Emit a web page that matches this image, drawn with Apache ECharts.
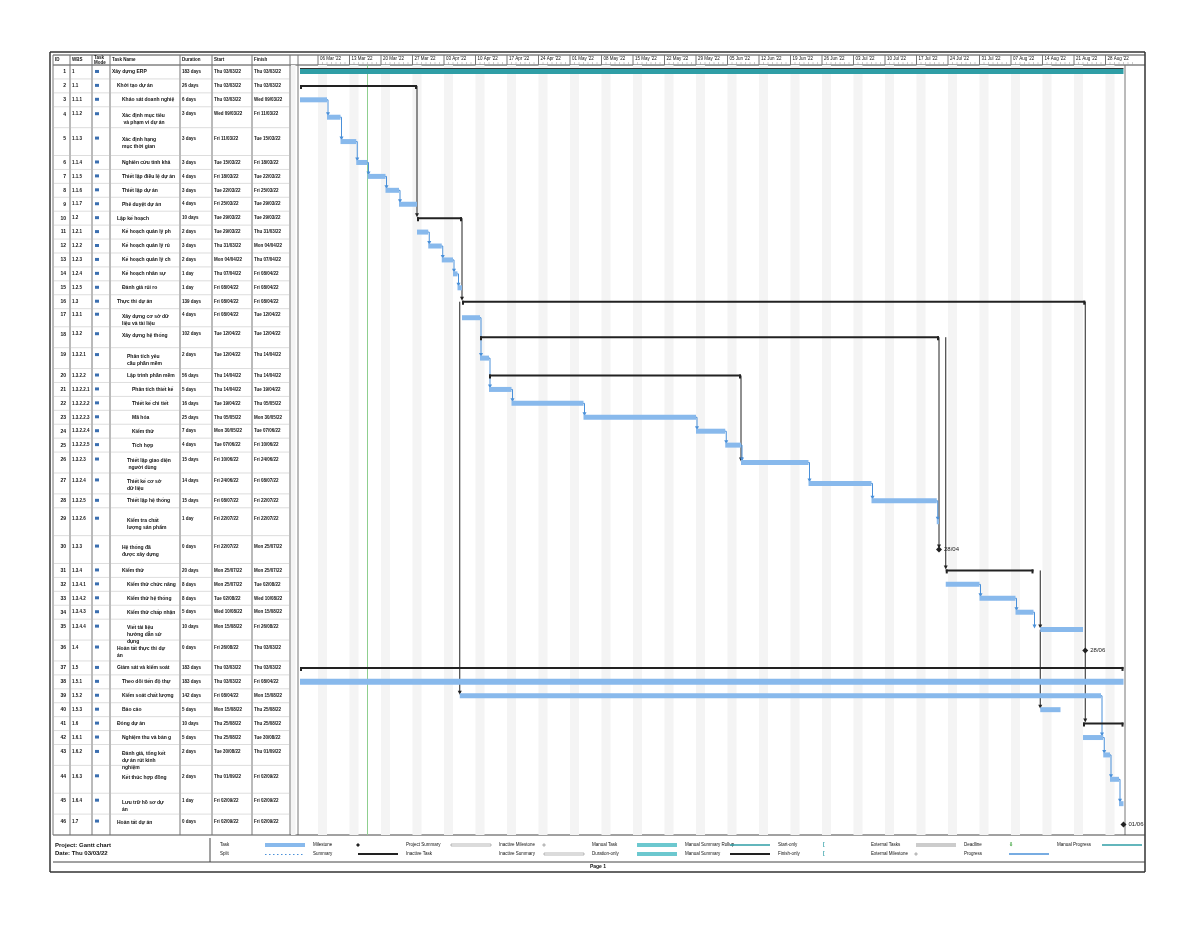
<!DOCTYPE html>
<html><head><meta charset="utf-8">
<script src="https://cdn.jsdelivr.net/npm/echarts@6/dist/echarts.min.js"></script>
<style>html,body{margin:0;background:#fff}#c{width:1200px;height:927px}</style>
</head><body><div id="c"></div>
<script>
// ---- DATA ----
const ids = Array.from({length:46},(_,i)=>i+1);
const wbs = ['1','1.1','1.1.1','1.1.2','1.1.3','1.1.4','1.1.5','1.1.6','1.1.7','1.2','1.2.1','1.2.2','1.2.3','1.2.4','1.2.5','1.3','1.3.1','1.3.2','1.3.2.1','1.3.2.2','1.3.2.2.1','1.3.2.2.2','1.3.2.2.3','1.3.2.2.4','1.3.2.2.5','1.3.2.3','1.3.2.4','1.3.2.5','1.3.2.6','1.3.3','1.3.4','1.3.4.1','1.3.4.2','1.3.4.3','1.3.4.4','1.4','1.5','1.5.1','1.5.2','1.5.3','1.6','1.6.1','1.6.2','1.6.3','1.6.4','1.7'];
const names = ['Xây dựng ERP','Khởi tạo dự án','Khảo sát doanh nghiệp','Xác định mục tiêu và phạm vi dự án','Xác định hạng mục thời gian','Nghiên cứu tính khả thi','Thiết lập điều lệ dự án','Thiết lập dự án','Phê duyệt dự án','Lập kế hoạch','Kế hoạch quản lý phạm vi','Kế hoạch quản lý rủi ro','Kế hoạch quản lý chi phí','Kế hoạch nhân sự','Đánh giá rủi ro','Thực thi dự án','Xây dựng cơ sở dữ liệu và tài liệu','Xây dựng hệ thống','Phân tích yêu cầu phần mềm','Lập trình phần mềm','Phân tích thiết kế','Thiết kế chi tiết','Mã hóa','Kiểm thử','Tích hợp','Thiết lập giao diện người dùng','Thiết kế cơ sở dữ liệu','Thiết lập hệ thống bảo mật','Kiểm tra chất lượng sản phẩm','Hệ thống đã được xây dựng','Kiểm thử','Kiểm thử chức năng','Kiểm thử hệ thống','Kiểm thử chấp nhận','Viết tài liệu hướng dẫn sử dụng','Hoàn tất thực thi dự án','Giám sát và kiểm soát','Theo dõi tiến độ thực hiện','Kiểm soát chất lượng','Báo cáo','Đóng dự án','Nghiệm thu và bàn giao','Đánh giá, tổng kết dự án rút kinh nghiệm','Kết thúc hợp đồng','Lưu trữ hồ sơ dự án','Hoàn tất dự án'];
const durations = ['183 days','26 days','6 days','3 days','3 days','3 days','4 days','3 days','4 days','10 days','2 days','3 days','2 days','1 day','1 day','139 days','4 days','102 days','2 days','56 days','5 days','16 days','25 days','7 days','4 days','15 days','14 days','15 days','1 day','0 days','20 days','8 days','8 days','5 days','10 days','0 days','183 days','183 days','142 days','5 days','10 days','5 days','2 days','2 days','1 day','0 days'];
const startLabels = ['Thu 03/03/22','Thu 03/03/22','Thu 03/03/22','Wed 09/03/22','Fri 11/03/22','Tue 15/03/22','Fri 18/03/22','Tue 22/03/22','Fri 25/03/22','Tue 29/03/22','Tue 29/03/22','Thu 31/03/22','Mon 04/04/22','Thu 07/04/22','Fri 08/04/22','Fri 08/04/22','Fri 08/04/22','Tue 12/04/22','Tue 12/04/22','Thu 14/04/22','Thu 14/04/22','Tue 19/04/22','Thu 05/05/22','Mon 30/05/22','Tue 07/06/22','Fri 10/06/22','Fri 24/06/22','Fri 08/07/22','Fri 22/07/22','Fri 22/07/22','Mon 25/07/22','Mon 25/07/22','Tue 02/08/22','Wed 10/08/22','Mon 15/08/22','Fri 26/08/22','Thu 03/03/22','Thu 03/03/22','Fri 08/04/22','Mon 15/08/22','Thu 25/08/22','Thu 25/08/22','Tue 30/08/22','Thu 01/09/22','Fri 02/09/22','Fri 02/09/22'];
const starts = [0,0,0,6,9,12.5,15,19,22,26,26,28.5,31.5,34,35,36,36,40,40,42,42,47,63,88,94.5,98,113,127,141.5,142,143.5,143.5,151,159,164.5,174.5,0,0,35.5,164.5,174,174,178.5,180,182,183];
const ends   = [183,26,6,9,12.5,15,19,22,26,36,28.5,31.5,34,35,36,174.5,40,142,42,98,47,63,88,94.5,98,113,127,141.5,142,142,163,151,159,163,174,174.5,183,183,178,169,183,178.5,180,182,183,183];
const kinds  = ['teal','sum','bar','bar','bar','bar','bar','bar','bar','sum','bar','bar','bar','bar','bar','sum','bar','sum','bar','sum','bar','bar','bar','bar','bar','bar','bar','bar','bar','ms','sum','bar','bar','bar','bar','ms','sum','wide','bar','bar','sum','bar','bar','bar','bar','ms'];
const indent = [0,1,2,2,2,2,2,2,2,1,2,2,2,2,2,1,2,2,3,3,4,4,4,4,4,3,3,3,3,2,2,3,3,3,3,1,1,2,2,2,1,2,2,2,2,1];
const rowH = [1,1,1,1.5,2,1,1,1,1,1,1,1,1,1,1,1,1.3,1.5,1.5,1,1,1,1,1,1,1.5,1.5,1,2,2,1,1,1,1,1.5,1.5,1,1,1,1,1,1,1.5,2,1.5,1.5];
const msLabels = {30:'28/04',36:'28/06',46:'01/06'};
const blackLinks = [[2,10,26],[10,16,36],[16,39,35.5],[18,30,142],[18,31,143.5],[20,26,98],[31,35,164.5],[16,41,174.5],[35,40,164.5]];
const blueLinks = [[3,4],[4,5],[5,6],[6,7],[7,8],[8,9],[11,12],[12,13],[13,14],[14,15],[17,19],[19,21],[21,22],[22,23],[23,24],[24,25],[25,26],[26,27],[27,28],[28,29],[32,33],[33,34],[34,35],[39,42],[42,43],[43,44],[44,45]];
const weekLabels = ['27 Feb','06 Mar','13 Mar','20 Mar','27 Mar','03 Apr','10 Apr','17 Apr','24 Apr','01 May','08 May','15 May','22 May','29 May','05 Jun','12 Jun','19 Jun','26 Jun','03 Jul','10 Jul','17 Jul','24 Jul','31 Jul','07 Aug','14 Aug','21 Aug','28 Aug'];
const todayDay = 15;

// ---- layout helpers ----
const rowTop=[];let acc=0;rowH.forEach(h=>{rowTop.push(acc);acc+=h;});
const totalRows=acc;
const DAY0=-2, DAY1=188;
const chart=echarts.init(document.getElementById('c'));
const GL=291,GW=855,GT=65,GH=770;
const FS=5;
const taskData=ids.map((id,i)=>[starts[i],ends[i],i]);
const weekData=weekLabels.map((w,i)=>[i]);
function ctr(i){return rowTop[i]+rowH[i]/2;}
chart.setOption({
  animation:false,
  grid:{left:GL,top:GT,width:GW,height:GH,show:false},
  xAxis:{type:'value',min:DAY0,max:DAY1,show:false},
  yAxis:{type:'value',min:0,max:totalRows,inverse:true,show:false},
  series:[
    {type:'custom',silent:true,data:weekData,z:1,renderItem(p,api){
      const w=api.value(0);const d=-3+w*7;
      const a=api.coord([Math.max(d,DAY0),0]),b=api.coord([Math.min(d+2,DAY1),totalRows]);
      return {type:'rect',shape:{x:a[0],y:a[1],width:Math.max(b[0]-a[0],0),height:b[1]-a[1]},style:{fill:'#f4f4f4'}};
    }},
    {type:'custom',silent:true,data:[[todayDay]],z:2,renderItem(p,api){
      const a=api.coord([api.value(0),0]),b=api.coord([api.value(0),totalRows]);
      return {type:'line',shape:{x1:a[0],y1:a[1],x2:b[0],y2:b[1]},style:{stroke:'#8fcf8f',lineWidth:1}};
    }},
    {type:'custom',silent:true,data:blackLinks,z:3,renderItem(p,api){
      const f=api.value(0)-1,t=api.value(1)-1,d=api.value(2);
      const a=api.coord([d,ctr(f)]),b=api.coord([d,ctr(t)]);
      return {type:'group',children:[
        {type:'line',shape:{x1:a[0],y1:a[1],x2:b[0],y2:b[1]-3},style:{stroke:'#222',lineWidth:1}},
        {type:'polygon',shape:{points:[[b[0]-2,b[1]-5],[b[0]+2,b[1]-5],[b[0],b[1]-1]]},style:{fill:'#222'}}]};
    }},
    {type:'custom',silent:true,data:blueLinks,z:3,renderItem(p,api){
      const f=api.value(0)-1,t=api.value(1)-1;
      const d=ends[f];
      const a=api.coord([d,ctr(f)]),b=api.coord([d,ctr(t)]);
      return {type:'group',children:[
        {type:'polyline',shape:{points:[[a[0]-1,a[1]],[a[0]+1,a[1]],[a[0]+1,b[1]-3]]},style:{stroke:'#4a90d9',lineWidth:1,fill:null}},
        {type:'polygon',shape:{points:[[b[0]-1,b[1]-5],[b[0]+3,b[1]-5],[b[0]+1,b[1]-1]]},style:{fill:'#4a90d9'}}]};
    }},
    {type:'custom',silent:true,data:taskData,z:4,renderItem(p,api){
      const s=api.value(0),e=api.value(1),i=api.value(2),k=kinds[i];
      const a=api.coord([s,ctr(i)]),b=api.coord([e,ctr(i)]);
      const y=a[1];
      if(k==='bar') return {type:'rect',shape:{x:a[0],y:y-2.5,width:Math.max(b[0]-a[0],2),height:5},style:{fill:'#88b9ec'}};
      if(k==='wide') return {type:'rect',shape:{x:a[0],y:y-3,width:b[0]-a[0],height:6},style:{fill:'#88b9ec'}};
      if(k==='teal') return {type:'group',children:[
        {type:'rect',shape:{x:a[0],y:y-3,width:b[0]-a[0],height:5},style:{fill:'#2f9ea6'}},
        {type:'rect',shape:{x:a[0],y:y-4,width:b[0]-a[0],height:1},style:{fill:'#333'}}]};
      if(k==='sum') return {type:'group',children:[
        {type:'rect',shape:{x:a[0],y:y-1,width:b[0]-a[0],height:2},style:{fill:'#222'}},
        {type:'rect',shape:{x:a[0],y:y-1,width:2,height:4},style:{fill:'#222'}},
        {type:'rect',shape:{x:b[0]-2,y:y-1,width:2,height:4},style:{fill:'#222'}}]};
      if(k==='ms') return {type:'group',children:[
        {type:'polygon',shape:{points:[[a[0],y-3],[a[0]+3,y],[a[0],y+3],[a[0]-3,y]]},style:{fill:'#222'}},
        {type:'text',style:{x:a[0]+5,y:y,text:msLabels[i+1],fontSize:6,fill:'#222',verticalAlign:'middle',fontFamily:'Liberation Sans'}}]};
      return null;
    }}
  ]
});
// ---- table & frame graphics ----
const G=[];
const line=(x1,y1,x2,y2,c,w)=>G.push({type:'line',silent:true,shape:{x1,y1,x2,y2},style:{stroke:c||'#555',lineWidth:w||1}});
const txt=(x,y,t,o)=>G.push({type:'text',silent:true,style:Object.assign({x,y,text:t,fontSize:FS,fill:'#111',fontFamily:'Liberation Sans',verticalAlign:'middle',fontWeight:'bold'},o||{})});
const cols=[53,70,92,110,180,212,252,290,298];
line(50,52,1145,52,'#333',1.5);line(50,52,50,872,'#333',1.5);line(1145,52,1145,872,'#333',1.5);line(50,872,1145,872,'#333',1.5);
line(53,55,1145,55,'#444');line(53,65,1145,65,'#444');
cols.forEach(x=>line(x,55,x,835,'#777'));
line(1125,65,1125,835,'#777');line(53,835,1145,835,'#444');
const hdr=['ID','WBS','Task\nMode','Task Name','Duration','Start','Finish'];
hdr.forEach((h,i)=>txt(cols[i]+2,60,h,{fontSize:4.5,lineHeight:5}));
for(let i=0;i<weekLabels.length;i++){const x=chart.convertToPixel({gridIndex:0},[-3+i*7,0])[0];
  if(x<292||x>1140) continue; line(x,55,x,65,'#777');txt(x+2,59,weekLabels[i]+" '22",{fontSize:4.5,fontWeight:'normal'});
  for(let d=1;d<7;d++){const xx=x+d*4.5;if(xx<1145)line(xx,62,xx,65,'#999',0.5);}}
ids.forEach((id,i)=>{
  const yc=chart.convertToPixel({gridIndex:0},[0,ctr(i)])[1];
  const yb=chart.convertToPixel({gridIndex:0},[0,rowTop[i]+rowH[i]])[1];
  line(53,yb,290,yb,'#bbb',0.5);
  const multi=rowH[i]>1.2;
  const ty=multi?yc-3:yc;
  txt(66,ty,String(id),{align:'right'});
  txt(72,ty,wbs[i],{fontSize:4.5});
  G.push({type:'rect',silent:true,shape:{x:95,y:ty-2,width:4,height:3},style:{fill:'#3b6fb0'}});
  txt(112+indent[i]*5,multi?ty-2:ty,names[i],{width:66-indent[i]*5,overflow:multi?'break':'truncate',ellipsis:'',lineHeight:7,verticalAlign:multi?'top':'middle'});
  txt(182,ty,durations[i],{fontSize:4.5});
  txt(214,ty,startLabels[i],{fontSize:4.5});
  txt(254,ty,startLabels[Math.min(i+1,45)],{fontSize:4.5});
});
line(53,862,1145,862,'#444');line(210,838,210,862,'#444');
txt(55,845,'Project: Gantt chart',{fontSize:6});txt(55,853,'Date: Thu 03/03/22',{fontSize:6});
const leg=[['Task','bar'],['Split','dot'],['Milestone','ms'],['Summary','sum'],['Project Summary','psum'],['Inactive Task','ibar'],['Inactive Milestone','ims'],['Inactive Summary','isum'],['Manual Task','mbar'],['Duration-only','mbar'],['Manual Summary Rollup','mline'],['Manual Summary','sum'],['Start-only','st'],['Finish-only','st'],['External Tasks','ext'],['External Milestone','ims'],['Deadline','dl'],['Progress','prog'],['Manual Progress','mline']];
leg.forEach((l,i)=>{const c=Math.floor(i/2),r=i%2;const x=220+c*93,y=845+r*9;
  txt(x,y,l[0],{fontSize:4.5,fontWeight:'normal'});
  const sx=x+45;
  if(l[1]==='bar')G.push({type:'rect',silent:true,shape:{x:sx,y:y-2,width:40,height:4},style:{fill:'#88b9ec'}});
  else if(l[1]==='dot')for(let k=0;k<10;k++)G.push({type:'rect',silent:true,shape:{x:sx+k*4,y:y,width:1.5,height:1},style:{fill:'#4a90d9'}});
  else if(l[1]==='sum'){G.push({type:'rect',silent:true,shape:{x:sx,y:y-1,width:40,height:2},style:{fill:'#222'}});}
  else if(l[1]==='mbar')G.push({type:'rect',silent:true,shape:{x:sx,y:y-2,width:40,height:4},style:{fill:'#6cc8cf'}});
  else if(l[1]==='mline'||l[1]==='prog')line(sx,y,sx+40,y,l[1]==='prog'?'#4a90d9':'#2f9ea6',1.5);
  else if(l[1]==='psum'||l[1]==='isum')G.push({type:'rect',silent:true,shape:{x:sx,y:y-1,width:40,height:2},style:{fill:'#fff',stroke:'#999',lineWidth:0.7}});
  else if(l[1]==='ext')G.push({type:'rect',silent:true,shape:{x:sx,y:y-2,width:40,height:4},style:{fill:'#ccc'}});
  else if(l[1]==='ms'||l[1]==='ims')G.push({type:'polygon',silent:true,shape:{points:[[sx,y-2],[sx+2,y],[sx,y+2],[sx-2,y]]},style:{fill:l[1]==='ms'?'#222':'#bbb'}});
  else if(l[1]==='st')txt(sx,y,'[',{fill:'#2f9ea6'});
  else if(l[1]==='dl')txt(sx,y,'⇩',{fill:'#2a9a2a'});
});
txt(598,867,'Page 1',{fontSize:5,align:'center'});
chart.setOption({graphic:G});
</script></body></html>
